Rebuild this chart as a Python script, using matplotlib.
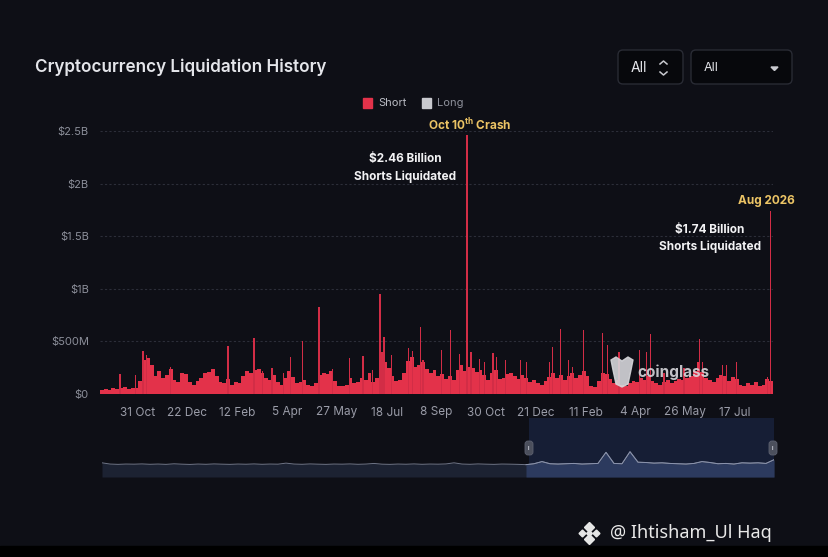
import numpy as np
import matplotlib
matplotlib.use("Agg")
import matplotlib.pyplot as plt
from matplotlib.patches import FancyBboxPatch, Rectangle, Polygon
from matplotlib.transforms import IdentityTransform

# ---- data (values in $M) -------------------------------------------------
START = np.datetime64("2023-09-22")
N_DAYS = 704
BIN = 4  # days per base bar

# short liquidations, 4-day buckets
base_vals = [
    40, 50, 35, 60, 45, 55, 70, 50, 60, 55,
    120, 320, 340, 280, 170, 220, 150, 180, 240, 130,
    110, 200, 190, 110, 90, 120, 150, 200, 210, 240,
    170, 110, 100, 140, 90, 110, 100, 170, 220, 200,
    230, 240, 200, 150, 130, 180, 110, 90, 150, 220,
    160, 100, 110, 130, 90, 80, 100, 180, 200, 190,
    220, 120, 80, 75, 90, 150, 100, 110, 150, 130,
    200, 110, 150, 330, 300, 250, 170, 120, 130, 200,
    310, 350, 260, 280, 300, 240, 200, 230, 170, 190,
    140, 170, 130, 230, 280, 220, 260, 250, 210, 230,
    180, 130, 200, 230, 140, 150, 190, 200, 170, 140,
    180, 150, 110, 130, 100, 90, 120, 160, 200, 150,
    180, 130, 170, 200, 150, 180, 220, 170, 80, 70,
    120, 200, 190, 140, 100, 130, 90, 80, 100, 120,
    110, 150, 130, 170, 120, 100, 90, 110, 130, 100,
    120, 140, 130, 150, 170, 220, 300, 210, 150, 130,
    110, 150, 180, 170, 120, 160, 140, 90, 80, 100,
    90, 110, 80, 90, 140, 120,
]

# single-day spikes: day index since START, value
spike_days = [21, 37, 45, 49, 74, 134, 161, 170, 180, 192, 199, 212, 229,
              243, 261, 275, 285, 293, 295, 297, 305, 323, 327, 335, 338,
              357, 367, 376, 384, 388, 397, 402, 411, 415, 424, 440, 446,
              470, 473, 482, 490, 494, 506, 526, 531, 543, 564, 572, 576,
              590, 611, 627, 630, 651, 655, 666, 698, 701]
spike_vals = [190, 180, 410, 370, 260, 455, 530, 220, 250, 200, 355, 505, 830,
              240, 340, 360, 230, 950, 400, 540, 370, 440, 410, 640, 320,
              420, 610, 380, 2460, 400, 330, 300, 390, 350, 320, 320, 300,
              300, 450, 620, 320, 260, 610, 580, 465, 400, 420, 400, 570,
              200, 250, 525, 300, 280, 275, 300, 160, 1740]

tick_dates = ["2023-10-31", "2023-12-22", "2024-02-12", "2024-04-05",
              "2024-05-27", "2024-07-18", "2024-09-08", "2024-10-30",
              "2024-12-21", "2025-02-11", "2025-04-04", "2025-05-26",
              "2025-07-17"]
tick_labels = ["31 Oct", "22 Dec", "12 Feb", "5 Apr", "27 May", "18 Jul",
               "8 Sep", "30 Oct", "21 Dec", "11 Feb", "4 Apr", "26 May",
               "17 Jul"]
y_ticks = [0, 500, 1000, 1500, 2000, 2500]
y_labels = ["$0", "$500M", "$1B", "$1.5B", "$2B", "$2.5B"]

# navigator overview line (whole history, coarse)
nav_vals = [230, 210, 205, 210, 208, 212, 206, 210, 205, 214,
            208, 204, 210, 206, 212, 208, 205, 210, 207, 212,
            206, 210, 208, 225, 210, 206, 212, 208, 205, 210,
            208, 212, 206, 210, 220, 208, 205, 210, 207, 212,
            206, 210, 208, 212, 230, 210, 206, 212, 208, 205,
            210, 208, 205, 200, 215, 250, 215, 210, 215, 220,
            210, 215, 220, 400, 220, 215, 410, 240, 235, 225,
            230, 220, 215, 210, 220, 250, 235, 215, 220, 210,
            230, 225, 230, 220, 280]

W, H = 829, 557
BG = "#0e0f16"
RED = "#e3324a"
GOLD = "#ecc465"
GREY = "#8b8e99"
FONT = ["Inter", "DejaVu Sans"]
plt.rcParams["font.family"] = FONT
plt.rcParams["mathtext.fontset"] = "custom"
plt.rcParams["mathtext.rm"] = "Inter"
plt.rcParams["mathtext.bf"] = "Inter:bold"


def fx(x):
    return x / W


def fy(y):
    return 1 - y / H


fig = plt.figure(figsize=(W / 100, H / 100), dpi=100, facecolor=BG)

# ---- main bar chart ------------------------------------------------------
ax = fig.add_axes([fx(100), fy(394), fx(673), 263 / H])
ax.set_facecolor(BG)
base_x = np.arange(len(base_vals)) * BIN + BIN / 2
ax.bar(base_x, base_vals, width=BIN, color=RED, linewidth=0, zorder=2)
ax.bar(spike_days, spike_vals, width=1.3, color="#d22d46", linewidth=0, zorder=3)
ax.axhline(12, color=RED, lw=2.5, zorder=2)
ax.set_xlim(0, N_DAYS)
ax.set_ylim(0, 2500)
ax.set_yticks(y_ticks, y_labels)
tick_pos = [(np.datetime64(d) - START).astype(int) for d in tick_dates]
ax.set_xticks(tick_pos, tick_labels)
for v in y_ticks[1:]:
    ax.axhline(v, color="#2c2e39", lw=0.8, ls=(0, (2, 2)), zorder=1)
ax.tick_params(axis="both", length=0, colors=GREY, labelsize=8)
ax.tick_params(axis="x", pad=9, labelsize=8.5, colors="#9a9ca8")
ax.tick_params(axis="y", pad=8)
for s in ax.spines.values():
    s.set_visible(False)

# ---- navigator -----------------------------------------------------------
nav = fig.add_axes([fx(102), fy(477), fx(672), 37 / H])
nav.set_facecolor(BG)
nx = np.linspace(0, 1, len(nav_vals))
nav.fill_between(nx, 0, nav_vals, color="#1c2232", lw=0)
nav.plot(nx, nav_vals, color="#6f7587", lw=0.7)
sel0 = (529 - 102) / 672
nav.add_patch(Rectangle((sel0, 0), 1 - sel0, 1.6, transform=nav.get_xaxis_transform(),
                        facecolor="#1a2440", alpha=0.75, lw=0, zorder=0, clip_on=False))
mask = nx >= sel0 - 0.005
nav.fill_between(nx[mask], 0, np.array(nav_vals)[mask], color="#2c3a5e", lw=0)
nav.plot(nx[mask], np.array(nav_vals)[mask], color="#8a93ad", lw=0.7)
nav.set_xlim(0, 1)
nav.set_ylim(0, 600)
nav.axis("off")
for hx in (529, 773):
    fig.add_artist(FancyBboxPatch((hx - 4, H - 455), 8, 14, boxstyle="round,pad=0,rounding_size=3",
                                  facecolor="#4b4f5c", edgecolor="#5d6170", lw=0.6,
                                  transform=IdentityTransform()))
    fig.text(fx(hx), fy(448), "ll", color="#b8bac4", fontsize=4, ha="center", va="center")

# ---- header --------------------------------------------------------------
fig.text(fx(35), fy(67), "Cryptocurrency Liquidation History", color="#e4e5ea",
         fontsize=12.3, fontweight="semibold", va="center")
for bx, bw in ((618, 65), (691, 101)):
    fig.add_artist(FancyBboxPatch((bx, H - 84), bw, 34, boxstyle="round,pad=0,rounding_size=5",
                                  facecolor="#07080c", edgecolor="#292b34", lw=1,
                                  transform=IdentityTransform()))
fig.text(fx(631), fy(68), "All", color="#e4e5ea", fontsize=10, va="center")
fig.text(fx(704), fy(68), "All", color="#e4e5ea", fontsize=9, va="center")
fig.add_artist(plt.Line2D([fx(660), fx(663.5), fx(667)], [fy(64), fy(61), fy(64)],
                          color="#c9cad0", lw=1.1, transform=fig.transFigure))
fig.add_artist(plt.Line2D([fx(660), fx(663.5), fx(667)], [fy(72), fy(75), fy(72)],
                          color="#c9cad0", lw=1.1, transform=fig.transFigure))
fig.add_artist(Polygon([[fx(771), fy(67)], [fx(778), fy(67)], [fx(774.5), fy(70.5)]],
                       closed=True, color="#c9cad0", transform=fig.transFigure))

# legend
fig.add_artist(Rectangle((fx(363), fy(108)), fx(9), 10 / H, color=RED, transform=fig.transFigure))
fig.text(fx(378), fy(103), "Short", color="#b9bbc3", fontsize=8, va="center")
fig.add_artist(Rectangle((fx(422), fy(108)), fx(9), 10 / H, color="#c8c9ce", transform=fig.transFigure))
fig.text(fx(437), fy(103), "Long", color="#8d909a", fontsize=8, va="center")

# ---- annotations ---------------------------------------------------------
fig.text(fx(470), fy(125), r"Oct 10$^{\mathbf{th}}$ Crash", color=GOLD, fontsize=8.5,
         fontweight="bold", ha="center", va="center")
fig.text(fx(405), fy(159), "$2.46 Billion", color="#f2f2f4", fontsize=8.5, fontweight="bold",
         ha="center", va="center")
fig.text(fx(405), fy(177), "Shorts Liquidated", color="#f2f2f4", fontsize=8.5, fontweight="bold",
         ha="center", va="center")
fig.text(fx(766), fy(201), "Aug 2026", color=GOLD, fontsize=8.5, fontweight="bold",
         ha="center", va="center")
fig.text(fx(710), fy(230), "$1.74 Billion", color="#f2f2f4", fontsize=8.5, fontweight="bold",
         ha="center", va="center")
fig.text(fx(710), fy(247), "Shorts Liquidated", color="#f2f2f4", fontsize=8.5, fontweight="bold",
         ha="center", va="center")

# coinglass watermark
logo = [[611, 360], [616, 357], [622, 361], [628, 357], [633, 360], [631, 370],
        [628, 384], [622, 387], [616, 384], [613, 370]]
fig.add_artist(Polygon([[fx(x), fy(y)] for x, y in logo], closed=True, color="#d6d6da",
                       alpha=0.9, transform=fig.transFigure, zorder=5))
fig.text(fx(637), fy(372), "coinglass", color="#d6d6da", fontsize=11, fontweight="bold",
         va="center", alpha=0.9, zorder=5)

# footer band and author tag
fig.add_artist(Rectangle((0, 0), 1, 11 / H, color="#000000", transform=fig.transFigure))
for dx, dy, s in ((0, -6, 5), (-7, 0, 3.5), (7, 0, 3.5), (0, 6, 5), (0, 0, 3)):
    fig.add_artist(plt.Line2D([fx(589 + dx)], [fy(533 + dy)], marker="D", markersize=s,
                              color="#e6e6e6", lw=0, transform=fig.transFigure))
fig.text(fx(610), fy(533), "@ Ihtisham_Ul Haq", color="#e8e8e8", fontsize=13,
         family=["Noto Sans", "DejaVu Sans"], va="center")

fig.savefig("out.png", dpi=100, facecolor=BG)
